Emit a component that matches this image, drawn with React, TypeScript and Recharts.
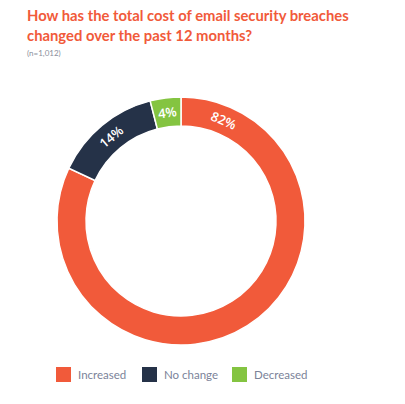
import React from "react"
import { PieChart, Pie, Cell, Legend } from "recharts"

const categories = ["Increased", "No change", "Decreased"]
const values = [82, 14, 4]
const colors = ["#F15A3A", "#253248", "#84C441"]

const data = categories.map((name, i) => ({ name, value: values[i] }))

const RAD = Math.PI / 180

function renderLabel(props: any) {
  const { cx, cy, innerRadius, outerRadius, midAngle, startAngle, percent, value } = props
  // the big slice has its label near its start, the rest at their middle
  const angle = percent > 0.5 ? startAngle - 23 : midAngle
  const r = (innerRadius + outerRadius) / 2
  const x = cx + r * Math.cos(angle * RAD)
  const y = cy - r * Math.sin(angle * RAD)
  return (
    <text
      x={x}
      y={y}
      fill="#ffffff"
      fontSize={13}
      fontWeight={600}
      fontFamily="'Open Sans', sans-serif"
      textAnchor="middle"
      dominantBaseline="central"
      transform={`rotate(${90 - angle} ${x} ${y})`}
    >
      {value}%
    </text>
  )
}

function renderLegend() {
  return (
    <div style={{ display: "flex", paddingLeft: 56, fontFamily: "Lato, sans-serif", fontSize: 11.5, color: "#7B8399" }}>
      {categories.map((c, i) => (
        <div key={c} style={{ display: "flex", alignItems: "center", width: i === 0 ? 86 : 90 }}>
          <span style={{ width: 15, height: 15, background: colors[i], display: "inline-block", marginRight: 7 }} />
          <span>{c}</span>
        </div>
      ))}
    </div>
  )
}

export default function App() {
  return (
    <div style={{ position: "absolute", left: 0, top: 0, width: 405, height: 404, background: "#fff" }}>
      <div style={{ position: "absolute", left: 27, top: 5, fontFamily: "Lato, sans-serif", fontWeight: 700, fontSize: 14.8, lineHeight: "20px", color: "#F15A3A" }}>
        How has the total cost of email security breaches
        <br />
        changed over the past 12 months?
      </div>
      <div style={{ position: "absolute", left: 27, top: 48, fontFamily: "Lato, sans-serif", fontSize: 8, color: "#8A8F9C" }}>
        (n=1,012)
      </div>
      <PieChart
        width={405}
        height={404}
        margin={{ top: 0, right: 0, bottom: 0, left: 0 }}
        style={{ position: "absolute", left: 0, top: 0 }}
      >
        <Pie
          data={data}
          dataKey="value"
          cx={181}
          cy={221}
          innerRadius={95}
          outerRadius={124}
          startAngle={90}
          endAngle={-270}
          stroke="#ffffff"
          strokeWidth={1.5}
          label={renderLabel}
          labelLine={false}
          isAnimationActive={false}
        >
          {data.map((d, i) => (
            <Cell key={d.name} fill={colors[i]} />
          ))}
        </Pie>
        <Legend content={renderLegend} verticalAlign="bottom" wrapperStyle={{ bottom: 22, left: 0, width: 405 }} />
      </PieChart>
    </div>
  )
}
